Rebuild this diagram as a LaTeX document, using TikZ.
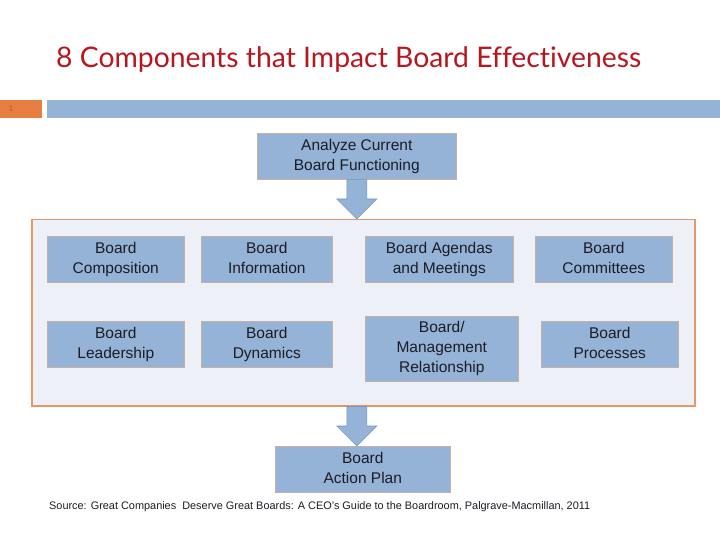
\documentclass[tikz,border=0pt]{standalone}
\usepackage{fontspec}
\setmainfont{Liberation Sans}
\newfontfamily\titlefont[Ligatures=NoCommon]{Lato}
\usetikzlibrary{calc}
\definecolor{boxblue}{RGB}{149,179,215}
\definecolor{boxedge}{RGB}{196,176,164}
\definecolor{arrowedge}{RGB}{120,150,190}
\definecolor{framefill}{RGB}{237,240,247}
\definecolor{frameedge}{RGB}{232,150,105}
\definecolor{titlered}{RGB}{184,22,30}
\definecolor{barorange}{RGB}{230,126,66}
\definecolor{numcol}{RGB}{170,90,50}
\definecolor{txt}{RGB}{28,28,36}
\tikzset{
  compbox/.style={draw=boxedge, line width=0.6pt, fill=boxblue, inner sep=0pt,
    anchor=north west, align=center, text=txt,
    font=\fontsize{15.5}{20}\selectfont},
  blockarrow/.style={draw=arrowedge, line width=0.6pt, fill=boxblue},
}
\begin{document}
\begin{tikzpicture}[x=1pt,y=-1pt]
\useasboundingbox (0,0) rectangle (720,540);
% title
\node[anchor=base west, inner sep=0pt, text=titlered] (title) at (56,68)
  {\resizebox{585pt}{!}{\titlefont\fontsize{28}{32}\selectfont 8 Components that Impact Board Effectiveness}};
% header bars
\fill[barorange] (0,100) rectangle (42,118);
\node[inner sep=0pt, text=numcol, font=\fontsize{8}{9}\selectfont] (num) at (11,108.5) {1};
\fill[boxblue] (47,100) rectangle (720,118);
% frame
\node[draw=frameedge, line width=1.5pt, fill=framefill, inner sep=0pt, anchor=north west,
  minimum width=663pt, minimum height=186pt] (frame) at (31,219) {};
% top box
\node[compbox, minimum width=199pt, minimum height=46pt] (analyze) at (257,133)
  {Analyze Current\strut\\Board Functioning\strut};
% component boxes
\node[compbox, minimum width=137pt, minimum height=46pt] (comp) at (47,236) {Board\strut\\Composition\strut};
\node[compbox, minimum width=131pt, minimum height=46pt] (info) at (201,236) {Board\strut\\Information\strut};
\node[compbox, minimum width=148pt, minimum height=46pt] (agenda) at (365,236) {Board Agendas\strut\\and Meetings\strut};
\node[compbox, minimum width=137pt, minimum height=46pt] (comm) at (535,236) {Board\strut\\Committees\strut};
\node[compbox, minimum width=137pt, minimum height=46pt] (lead) at (47,321) {Board\strut\\Leadership\strut};
\node[compbox, minimum width=131pt, minimum height=46pt] (dyn) at (201,321) {Board\strut\\Dynamics\strut};
\node[compbox, minimum width=153pt, minimum height=65pt] (mgmt) at (365,316) {Board/\strut\\Management\strut\\Relationship\strut};
\node[compbox, minimum width=137pt, minimum height=46pt] (proc) at (541,321) {Board\strut\\Processes\strut};
% bottom box
\node[compbox, minimum width=175pt, minimum height=46pt] (plan) at (275,446) {Board\strut\\Action Plan\strut};
% arrows
\coordinate (t1) at (analyze.south |- frame.north);
\draw[blockarrow] ($(analyze.south)+(-10,0)$) -- ($(t1)+(-10,-20)$) -- ($(t1)+(-20,-20)$)
  -- (t1) -- ($(t1)+(20,-20)$) -- ($(t1)+(10,-20)$) -- ($(analyze.south)+(10,0)$) -- cycle;
\coordinate (s2) at (analyze.south |- frame.south);
\coordinate (t2) at (analyze.south |- plan.north);
\draw[blockarrow] ($(s2)+(-10,0)$) -- ($(t2)+(-10,-20)$) -- ($(t2)+(-20,-20)$)
  -- (t2) -- ($(t2)+(20,-20)$) -- ($(t2)+(10,-20)$) -- ($(s2)+(10,0)$) -- cycle;
% source
\node[anchor=west, inner sep=0pt, text=txt] (src) at (49,507)
  {\resizebox{541pt}{!}{\fontsize{10}{12}\selectfont Source: Great Companies\ \ Deserve Great Boards: A CEO’s Guide to the Boardroom, Palgrave-Macmillan, 2011}};
\end{tikzpicture}
\end{document}
